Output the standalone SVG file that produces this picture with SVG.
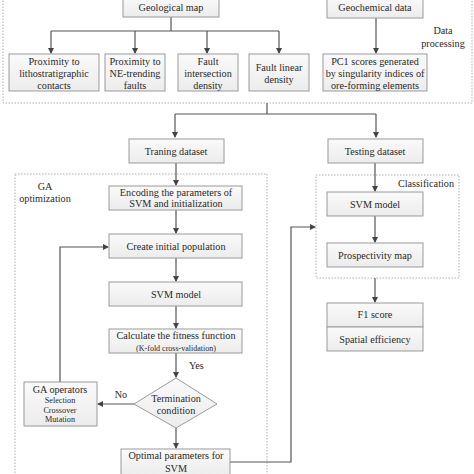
<svg xmlns="http://www.w3.org/2000/svg" width="474" height="474" viewBox="0 0 474 474">
<defs>
<linearGradient id="g" x1="0" y1="0" x2="0" y2="1"><stop offset="0" stop-color="#fafafa"/><stop offset="1" stop-color="#ececec"/></linearGradient>
<marker id="ah" markerWidth="6" markerHeight="6" refX="5" refY="3" orient="auto" markerUnits="userSpaceOnUse"><path d="M0,0 L6,3 L0,6 Z" fill="#444"/></marker>
</defs>
<style>
.b{fill:url(#g);stroke:#9a9a9a;stroke-width:1}
.d{fill:none;stroke:#b0b0b0;stroke-width:1;stroke-dasharray:1.5 1.5}
.c{fill:none;stroke:#555;stroke-width:1.2}
.a{marker-end:url(#ah)}
text{font-family:'Liberation Serif','Times New Roman',Times,serif;font-size:10.2px;fill:#2a2a2a;text-anchor:middle}
.s{font-size:8.2px}
.k{font-size:8px}
</style>
<rect x="0" y="0" width="474" height="474" fill="#fff"/>
<g id="containers">
<rect class="d" x="3" y="-4" width="469" height="107"/>
<text x="443" y="34">Data</text><text x="443" y="47">processing</text>
<rect class="d" x="15" y="174" width="252" height="310"/>
<text x="45" y="190">GA</text><text x="45" y="202">optimization</text>
<rect class="d" x="316" y="175" width="143" height="103"/>
<text x="454" y="187" style="text-anchor:end">Classification</text>
</g>
<g id="connectors">
<path class="c" d="M171,17 V31 M51,31 H279"/>
<path class="c a" d="M51,31 V53"/><path class="c a" d="M135,31 V53"/><path class="c a" d="M207,31 V53"/><path class="c a" d="M279,31 V53"/>
<path class="c a" d="M376,18 V53"/>
<path class="c" d="M267,103 V114 M175,114 H376"/>
<path class="c a" d="M175,114 V137"/><path class="c a" d="M376,114 V137"/>
<path class="c a" d="M176,163 V185"/>
<path class="c a" d="M176,210 V233"/>
<path class="c a" d="M176,258 V281"/>
<path class="c a" d="M176,306 V328"/>
<path class="c a" d="M176,353 V377"/>
<path class="c a" d="M134,404 H98"/>
<path class="c a" d="M60,382 V247 H108"/>
<path class="c a" d="M176,428 V448"/>
<path class="c a" d="M230,462 H291 V227 H315"/>
<path class="c a" d="M375,163 V191"/>
<path class="c a" d="M375,216 V242"/>
<path class="c a" d="M375,278 V302"/>
<text x="189" y="369" style="text-anchor:start">Yes</text>
<text x="121" y="398">No</text>
</g>
<g id="geological-map"><rect class="b" x="123" y="-3" width="96" height="20"/><text x="171" y="11">Geological map</text></g>
<g id="geochemical-data"><rect class="b" x="327" y="-3" width="96" height="21"/><text x="375" y="11">Geochemical data</text></g>
<g id="prox-litho"><rect class="b" x="9" y="54" width="90" height="37"/><text x="54" y="65">Proximity to</text><text x="54" y="77">lithostratigraphic</text><text x="54" y="89">contacts</text></g>
<g id="prox-ne"><rect class="b" x="105" y="54" width="60" height="37"/><text x="135" y="65">Proximity to</text><text x="135" y="77">NE-trending</text><text x="135" y="89">faults</text></g>
<g id="fault-int"><rect class="b" x="178" y="54" width="60" height="37"/><text x="208" y="65">Fault</text><text x="208" y="77">intersection</text><text x="208" y="89">density</text></g>
<g id="fault-lin"><rect class="b" x="249" y="54" width="60" height="37"/><text x="279" y="71">Fault linear</text><text x="279" y="83">density</text></g>
<g id="pc1"><rect class="b" x="323" y="54" width="104" height="37"/><text x="375" y="65">PC1 scores generated</text><text x="375" y="77">by singularity indices of</text><text x="375" y="89">ore-forming elements</text></g>
<g id="training"><rect class="b" x="129" y="139" width="95" height="24"/><text x="176" y="155">Traning dataset</text></g>
<g id="testing"><rect class="b" x="328" y="139" width="95" height="24"/><text x="375" y="155">Testing dataset</text></g>
<g id="encoding"><rect class="b" x="109" y="186" width="133" height="24"/><text x="176" y="196">Encoding the parameters of</text><text x="176" y="207">SVM and initialization</text></g>
<g id="create-pop"><rect class="b" x="109" y="234" width="133" height="24"/><text x="176" y="250">Create initial population</text></g>
<g id="svm-left"><rect class="b" x="109" y="282" width="133" height="24"/><text x="176" y="298">SVM model</text></g>
<g id="fitness"><rect class="b" x="109" y="329" width="133" height="24"/><text x="176" y="339">Calculate the fitness function</text><text class="k" x="176" y="350.5">(K-fold cross-validation)</text></g>
<g id="termination"><path class="b" d="M176,378 L217,404 L176,428 L134,404 Z"/><text x="176" y="402">Termination</text><text x="176" y="414">condition</text></g>
<g id="ga-operators"><rect class="b" x="24" y="382" width="73" height="44"/><text x="60" y="393">GA operators</text><text class="s" x="60" y="403">Selection</text><text class="s" x="60" y="413">Crossover</text><text class="s" x="60" y="422">Mutation</text></g>
<g id="optimal"><rect class="b" x="121" y="449" width="109" height="27"/><text x="176" y="459">Optimal parameters for</text><text x="176" y="472">SVM</text></g>
<g id="svm-right"><rect class="b" x="327" y="192" width="96" height="24"/><text x="375" y="208">SVM model</text></g>
<g id="prospectivity"><rect class="b" x="327" y="243" width="96" height="24"/><text x="375" y="259">Prospectivity map</text></g>
<g id="f1"><rect class="b" x="327" y="303" width="96" height="24"/><text x="375" y="318">F1 score</text></g>
<g id="spatial"><rect class="b" x="327" y="327" width="96" height="24"/><text x="375" y="343">Spatial efficiency</text></g>
</svg>
